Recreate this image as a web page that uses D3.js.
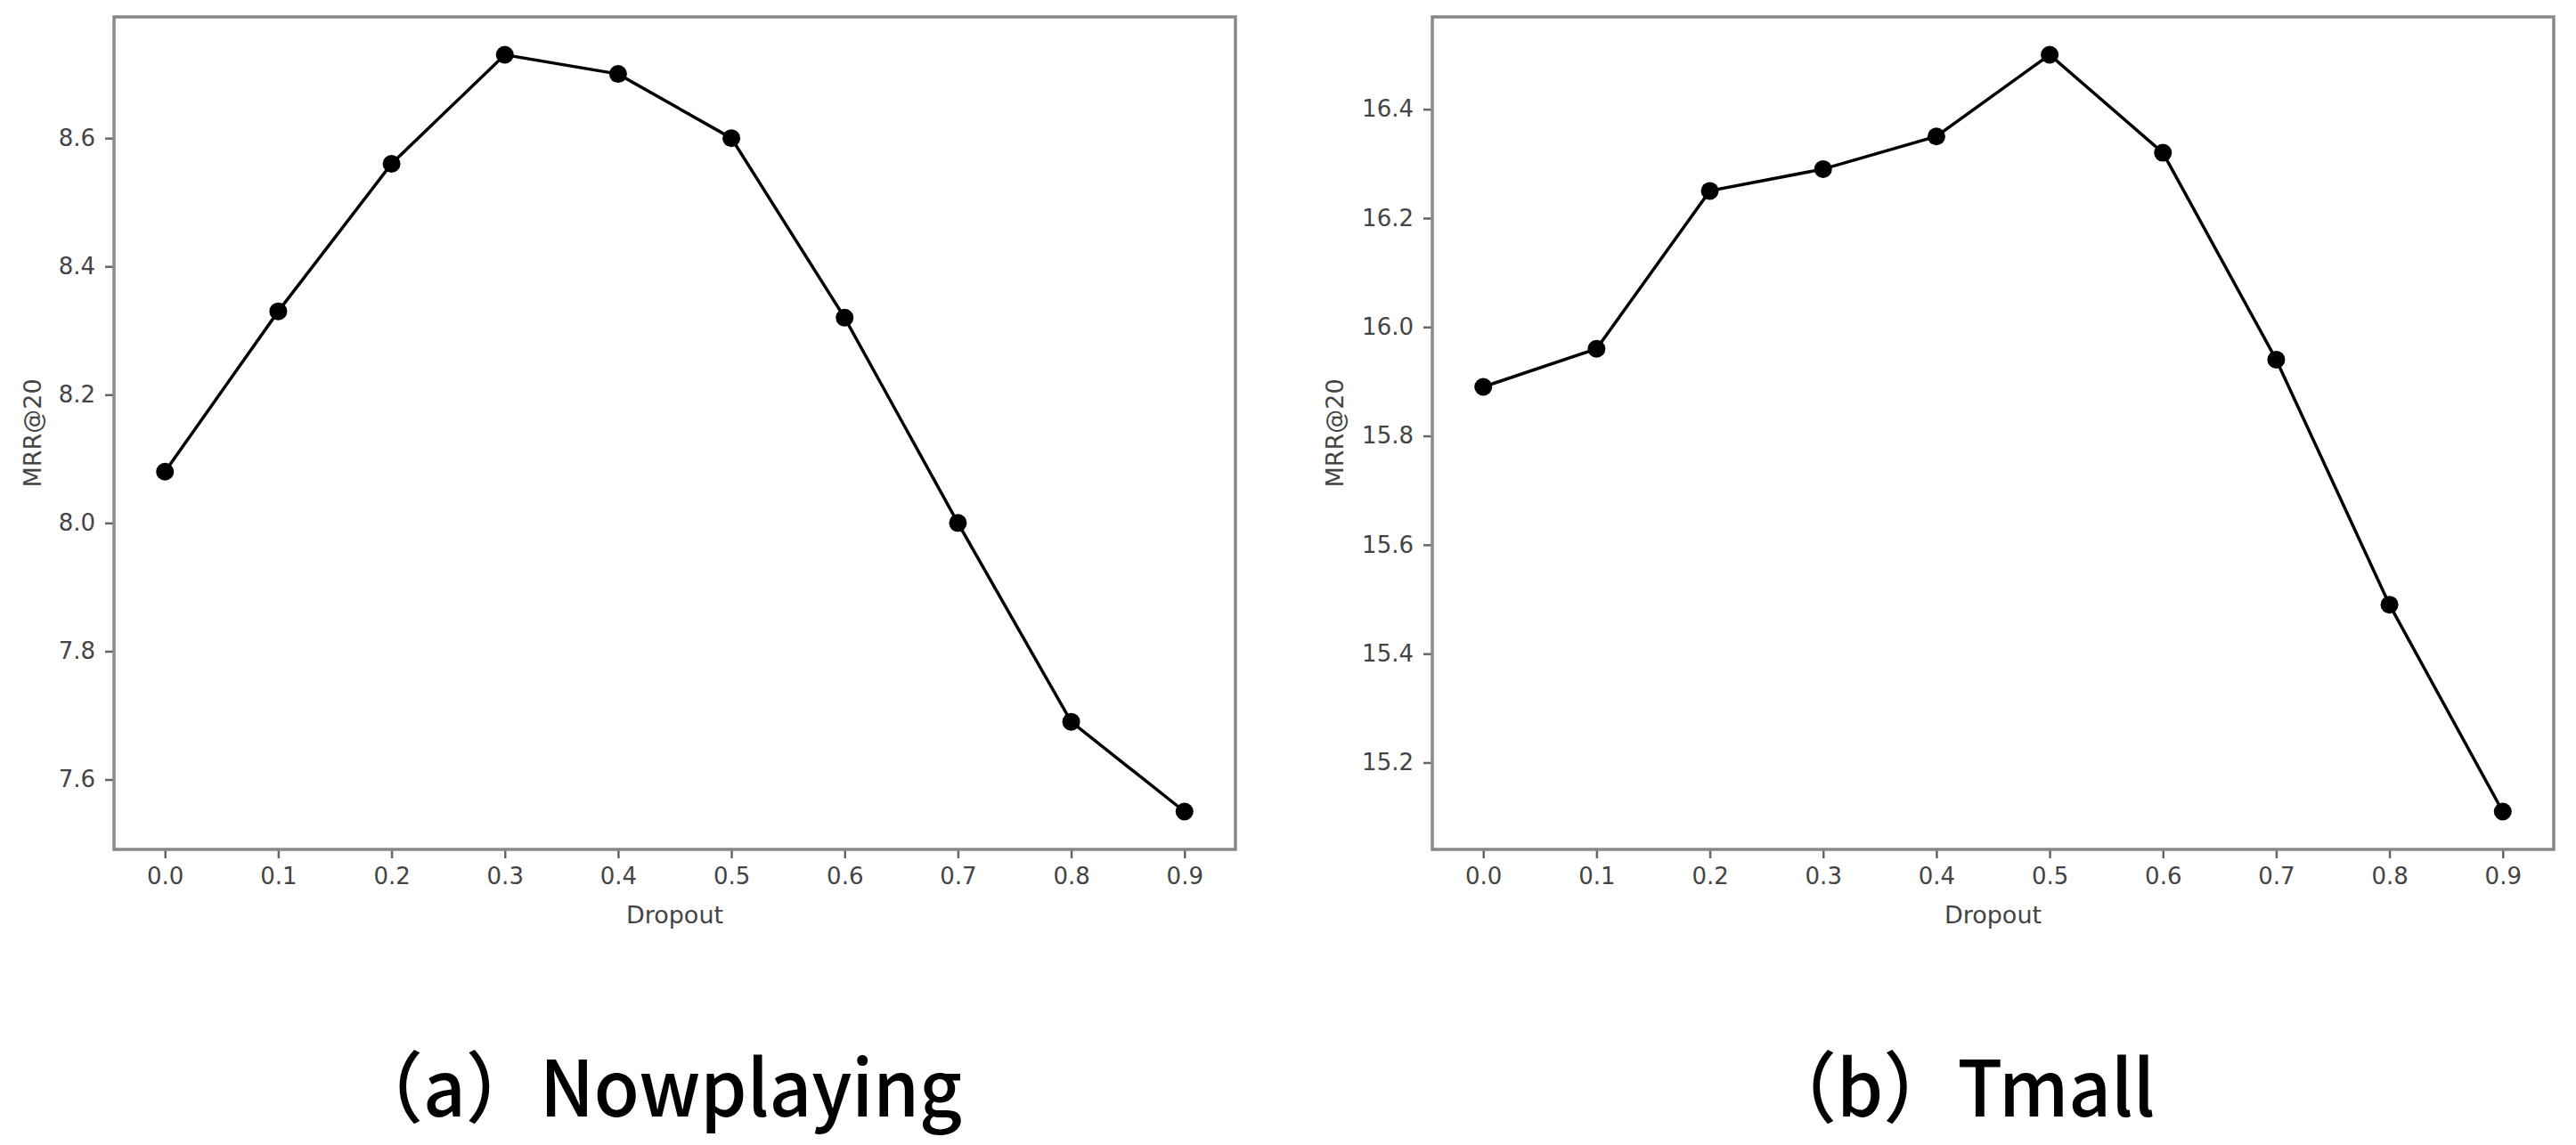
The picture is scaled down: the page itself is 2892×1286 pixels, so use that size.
<!DOCTYPE html>
<html>
<head>
<meta charset="utf-8">
<script src="https://d3js.org/d3.v7.min.js"></script>
<style>
  body { margin: 0; background: #fff; }
  text { font-family: "DejaVu Sans", sans-serif; }
</style>
</head>
<body>
<svg id="chart" width="2892" height="1286"></svg>
<script>
  // dropout rates on the x axis
  var dropout = [0.0, 0.1, 0.2, 0.3, 0.4, 0.5, 0.6, 0.7, 0.8, 0.9];

  // MRR@20 values
  var nowplaying = [8.08, 8.33, 8.56, 8.73, 8.70, 8.60, 8.32, 8.00, 7.69, 7.55];
  var tmall = [15.89, 15.96, 16.25, 16.29, 16.35, 16.50, 16.32, 15.94, 15.49, 15.11];

  var nowplayingTicks = [7.6, 7.8, 8.0, 8.2, 8.4, 8.6];
  var tmallTicks = [15.2, 15.4, 15.6, 15.8, 16.0, 16.2, 16.4];

  var svg = d3.select('#chart');
  svg.append('rect').attr('width', 2892).attr('height', 1286).attr('fill', '#fff');

  // note: "top" is taken by window.top, so use plotTop
  var plotTop = 19, plotBottom = 954, plotW = 1259;

  function panel(left, values, yTicks, title, titleX, labelOff) {
    var g = svg.append('g');

    // matplotlib style 5% padding around the data
    var ext = d3.extent(values);
    var pad = (ext[1] - ext[0]) * 0.05;

    var x = d3.scaleLinear()
      .domain([-0.045, 0.945])
      .range([left, left + plotW]);
    var y = d3.scaleLinear()
      .domain([ext[0] - pad, ext[1] + pad])
      .range([plotBottom, plotTop]);

    // x axis
    var xa = g.append('g')
      .attr('transform', 'translate(0,' + plotBottom + ')')
      .call(d3.axisBottom(x).tickValues(dropout).tickFormat(d3.format('.1f'))
        .tickSize(10).tickPadding(11));
    // y axis
    var ya = g.append('g')
      .attr('transform', 'translate(' + left + ',0)')
      .call(d3.axisLeft(y).tickValues(yTicks).tickFormat(d3.format('.1f'))
        .tickSize(10).tickPadding(11));

    [xa, ya].forEach(function(a) {
      a.select('.domain').remove();
      a.selectAll('line').attr('stroke', '#666').attr('stroke-width', 2.5);
      a.selectAll('text').attr('fill', '#444').style('font-size', '26px')
        .style('font-family', '"DejaVu Sans", sans-serif');
    });

    // frame
    g.append('rect')
      .attr('x', left).attr('y', plotTop)
      .attr('width', plotW).attr('height', plotBottom - plotTop)
      .attr('fill', 'none').attr('stroke', '#888').attr('stroke-width', 3.5);

    // axis labels
    g.append('text')
      .attr('x', left + plotW / 2).attr('y', 1037)
      .attr('text-anchor', 'middle')
      .attr('fill', '#444').style('font-size', '27px')
      .text('Dropout');
    g.append('text')
      .attr('transform', 'translate(' + (left - labelOff) + ',' + ((plotTop + plotBottom) / 2) + ') rotate(-90)')
      .attr('text-anchor', 'middle').attr('dy', '0.35em')
      .attr('fill', '#444').style('font-size', '27px')
      .text('MRR@20');

    // line + markers
    var line = d3.line()
      .x(function(d, i) { return x(dropout[i]); })
      .y(function(d) { return y(d); });
    g.append('path')
      .datum(values)
      .attr('d', line)
      .attr('fill', 'none').attr('stroke', '#000').attr('stroke-width', 3.5);
    g.selectAll('circle')
      .data(values)
      .enter().append('circle')
      .attr('cx', function(d, i) { return x(dropout[i]); })
      .attr('cy', function(d) { return y(d); })
      .attr('r', 10)
      .attr('fill', '#000');

    // caption under the panel (slightly narrower glyphs than Noto)
    svg.append('text')
      .attr('transform', 'translate(' + titleX + ',1254) scale(0.955,1)')
      .style('font-family', '"Noto Sans CJK SC", sans-serif')
      .style('font-size', '87px')
      .style('font-weight', 500)
      .attr('fill', '#000')
      .text(title);
  }

  panel(128, nowplaying, nowplayingTicks, '（a）Nowplaying', 392, 91);
  panel(1608, tmall, tmallTicks, '（b）Tmall', 1979, 109);
</script>
</body>
</html>
